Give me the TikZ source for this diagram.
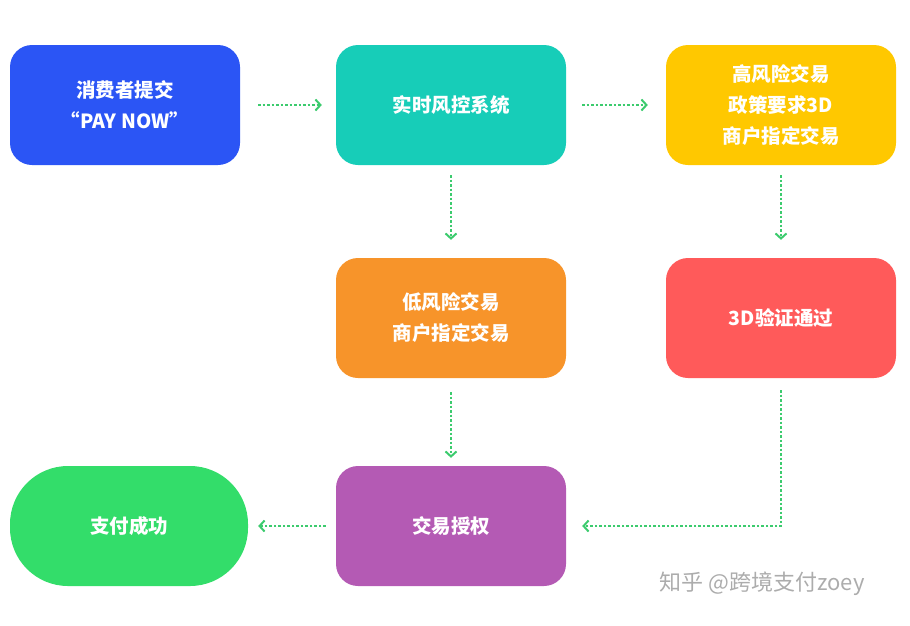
\documentclass[tikz,border=0pt]{standalone}
\usepackage{fontspec}
\setmainfont{Noto Sans CJK SC}
\usetikzlibrary{arrows.meta}
\definecolor{cblue}{HTML}{2B55F5}
\definecolor{cteal}{HTML}{17CDB8}
\definecolor{cyel}{HTML}{FFC800}
\definecolor{corg}{HTML}{F7942A}
\definecolor{cred}{HTML}{FF5A5A}
\definecolor{cpur}{HTML}{B45AB4}
\definecolor{cgrn}{HTML}{33DD6A}
\definecolor{carr}{HTML}{3CCB6E}
\begin{document}
\begin{tikzpicture}[x=1pt,y=-1pt,
 box/.style={rounded corners=22pt,minimum width=230pt,minimum height=120pt,text=white,align=center,font=\fontsize{19.5}{31}\selectfont\bfseries,inner sep=0pt},
 flow/.style={carr,line width=2.5pt,dash pattern=on 2.5pt off 2pt,-{Straight Barb[length=5pt,width=11pt,line width=2pt]}}]
\useasboundingbox (0,0) rectangle (910,625);
\node[box,fill=cblue] (a) at (125,105) {消费者提交\\“PAY NOW”};
\node[box,fill=cteal] (b) at (451,105) {实时风控系统};
\node[box,fill=cyel] (c) at (781,105) {高风险交易\\政策要求3D\\商户指定交易};
\node[box,fill=corg] (d) at (451,318) {低风险交易\\商户指定交易};
\node[box,fill=cred] (e) at (781,318) {3D验证通过};
\node[box,fill=cpur] (f) at (451,526) {交易授权};
\node[box,fill=cgrn,rounded corners=58pt,minimum width=238pt] (g) at (129,526) {支付成功};
\draw[flow] ([xshift=18pt]a.east) -- ([xshift=-14pt]b.west);
\draw[flow] ([xshift=16pt]b.east) -- ([xshift=-18pt]c.west);
\draw[flow] ([yshift=-10pt]b.south) -- ([yshift=18pt]d.north);
\draw[flow] ([yshift=-10pt]c.south) -- ([yshift=18pt]e.north);
\draw[flow] ([yshift=-14pt]d.south) -- ([yshift=8pt]f.north);
\draw[flow] ([yshift=-12pt]e.south) |- ([xshift=16pt]f.east);
\draw[flow] ([xshift=-10pt]f.west) -- ([xshift=10pt]g.east);
\node[text=gray!65,font=\fontsize{22}{24}\selectfont] (w) at (762,584) {知乎 @跨境支付zoey};
\end{tikzpicture}
\end{document}
